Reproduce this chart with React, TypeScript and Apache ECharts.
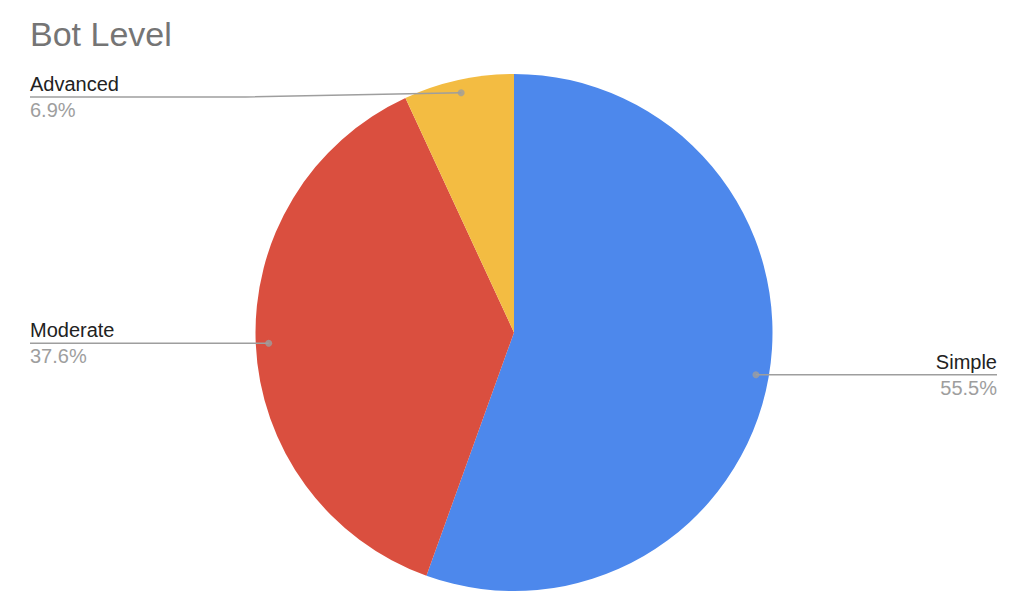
import React, { useEffect, useRef } from "react";
import * as echarts from "echarts";

const titleText = "Bot Level";
const categories = ["Simple", "Moderate", "Advanced"];
const shares = [55.5, 37.6, 6.9];
const sliceColors = ["#4D88EC", "#DA4F3F", "#F3BC42"];

export default function App() {
  const ref = useRef<HTMLDivElement>(null);
  useEffect(() => {
    const el = ref.current as HTMLDivElement;
    const chart = echarts.init(el, null, { renderer: "svg" });
    const W = chart.getWidth();
    const cx = 514;
    const cy = 332.5;
    const R = 258.5;
    const dotFrac = 0.95;
    const total = shares.reduce((a, b) => a + b, 0);
    let acc = 0;
    const mids = shares.map((v) => {
      const m = acc + v / 2;
      acc += v;
      return (m / total) * 100;
    });
    const data = categories.map((name, i) => ({
      name,
      value: shares[i],
      itemStyle: { color: sliceColors[i] },
    }));
    const leftEdge = 30;
    const rightEdge = W - 27;
    const minLabelY = 97;
    const font = "Arial, 'Liberation Sans', Helvetica, sans-serif";

    chart.setOption({
      animation: false,
      title: {
        text: titleText,
        left: 30,
        top: 17,
        padding: 0,
        textStyle: { fontSize: 34, fontWeight: "normal", color: "#757575", fontFamily: font },
      },
      polar: { center: [cx, cy], radius: R },
      angleAxis: { type: "value", min: 0, max: 100, startAngle: 90, clockwise: true, show: false },
      radiusAxis: { type: "value", min: 0, max: 1, show: false },
      series: [
        {
          type: "pie",
          center: [cx, cy],
          radius: R,
          startAngle: 90,
          clockwise: true,
          data,
          label: { show: false },
          labelLine: { show: false },
          itemStyle: { borderWidth: 0 },
          emphasis: { disabled: true },
          silent: true,
          z: 1,
        },
        {
          type: "pie",
          center: [cx, cy],
          radius: R * dotFrac,
          startAngle: 90,
          clockwise: true,
          percentPrecision: 1,
          avoidLabelOverlap: false,
          silent: true,
          emphasis: { disabled: true },
          data: categories.map((name, i) => ({ name, value: shares[i] })),
          itemStyle: { color: "rgba(0,0,0,0)", borderWidth: 0 },
          label: {
            show: true,
            position: "outside",
            formatter: "{n|{b}}\n{p|{d}%}",
            rich: {
              n: { fontSize: 20, color: "#222222", lineHeight: 26, fontFamily: font },
              p: { fontSize: 20, color: "#9E9E9E", lineHeight: 26, fontFamily: font },
            },
          },
          labelLine: {
            show: true,
            length: 10,
            length2: 10,
            lineStyle: { color: "#9E9E9E", width: 1.5 },
          },
          labelLayout: (params: any) => {
            const pts = params.labelLinePoints;
            if (!pts || !pts.length) return {};
            const x0 = pts[0][0];
            const y0 = pts[0][1];
            const left = x0 < cx;
            const edgeX = left ? leftEdge : rightEdge;
            const y = Math.max(y0, minLabelY);
            return {
              x: edgeX,
              y,
              align: left ? "left" : "right",
              verticalAlign: "middle",
              labelLinePoints: [
                [x0, y0],
                [(x0 + edgeX) / 2, y],
                [edgeX, y],
              ],
            };
          },
          z: 3,
        },
        {
          type: "scatter",
          coordinateSystem: "polar",
          data: mids.map((m) => [dotFrac, m]),
          symbolSize: 7,
          itemStyle: { color: "#9E9E9E" },
          silent: true,
          z: 4,
        },
      ],
    });
    return () => {
      chart.dispose();
    };
  }, []);
  return (
    <div
      ref={ref}
      style={{ position: "fixed", left: 0, top: 0, width: 1024, height: 609, background: "#ffffff" }}
    />
  );
}
